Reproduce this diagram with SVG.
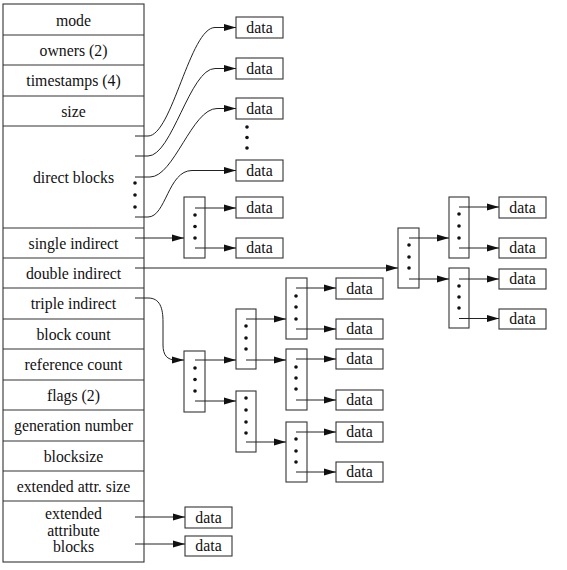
<svg xmlns="http://www.w3.org/2000/svg" width="567" height="570" viewBox="0 0 567 570">
<defs>
<marker id="ah" markerUnits="userSpaceOnUse" markerWidth="13" markerHeight="8" refX="12" refY="4" orient="auto">
<path d="M0,0.5 L12,4 L0,7.5 z" fill="#111"/>
</marker>
</defs>
<style>
text{font-family:"Liberation Serif","Times New Roman",serif;font-size:15.8px;fill:#111;text-anchor:middle}
.box{fill:#fff;stroke:#333;stroke-width:1.1}
.row{stroke:#333;stroke-width:1.1}
.ln{fill:none;stroke:#222;stroke-width:1}
.ar{fill:none;stroke:#222;stroke-width:1;marker-end:url(#ah)}
.dot{fill:#111}
</style>
<rect width="567" height="570" fill="#fff"/>

<g id="inode">
<rect class="box" x="3" y="4" width="141" height="558"/>
<path class="row" d="M3,35H144M3,65H144M3,96H144M3,126H144M3,228H144M3,258H144M3,288H144M3,319H144M3,349H144M3,380H144M3,410H144M3,441H144M3,471H144M3,501H144"/>
<text x="73.5" y="25.5">mode</text>
<text x="73.5" y="55.5">owners (2)</text>
<text x="73.5" y="86">timestamps (4)</text>
<text x="73.5" y="116.5">size</text>
<text x="73.5" y="183">direct blocks</text>
<text x="73.5" y="248.5">single indirect</text>
<text x="73.5" y="278.5">double indirect</text>
<text x="73.5" y="309">triple indirect</text>
<text x="73.5" y="339.5">block count</text>
<text x="73.5" y="370">reference count</text>
<text x="73.5" y="400.5">flags (2)</text>
<text x="73.5" y="431">generation number</text>
<text x="73.5" y="461.5">blocksize</text>
<text x="73.5" y="491.5">extended attr. size</text>
<text x="73.5" y="519">extended</text>
<text x="73.5" y="536">attribute</text>
<text x="73.5" y="552">blocks</text>
<circle class="dot" cx="135" cy="183" r="1.8"/>
<circle class="dot" cx="135" cy="195" r="1.8"/>
<circle class="dot" cx="135" cy="207" r="1.8"/>
</g>

<g id="direct-data">
<g id="d1"><rect class="box" x="236" y="17" width="47" height="21"/><text x="259.5" y="32.5">data</text></g>
<g id="d2"><rect class="box" x="236" y="58" width="47" height="21"/><text x="259.5" y="73.5">data</text></g>
<g id="d3"><rect class="box" x="236" y="98" width="47" height="21"/><text x="259.5" y="113.5">data</text></g>
<circle class="dot" cx="247" cy="127" r="1.8"/>
<circle class="dot" cx="247" cy="137.5" r="1.8"/>
<circle class="dot" cx="247" cy="148" r="1.8"/>
<g id="d4"><rect class="box" x="236" y="160" width="47" height="21"/><text x="259.5" y="175.5">data</text></g>
</g>

<g id="single-indirect">
<g id="s1"><rect class="box" x="184" y="197" width="21" height="61"/>
<circle class="dot" cx="195" cy="215" r="1.8"/><circle class="dot" cx="195" cy="226.5" r="1.8"/><circle class="dot" cx="195" cy="238" r="1.8"/></g>
<g id="s1d1"><rect class="box" x="236" y="197" width="47" height="21"/><text x="259.5" y="212.5">data</text></g>
<g id="s1d2"><rect class="box" x="236" y="238" width="47" height="20"/><text x="259.5" y="253">data</text></g>
</g>

<g id="double-indirect">
<g id="D1"><rect class="box" x="398" y="228" width="21" height="60"/>
<circle class="dot" cx="409" cy="245" r="1.8"/><circle class="dot" cx="409" cy="257" r="1.8"/><circle class="dot" cx="409" cy="268" r="1.8"/></g>
<g id="D2a"><rect class="box" x="449" y="197" width="20" height="61"/>
<circle class="dot" cx="459" cy="214" r="1.8"/><circle class="dot" cx="459" cy="226" r="1.8"/><circle class="dot" cx="459" cy="238" r="1.8"/></g>
<g id="D2b"><rect class="box" x="449" y="268" width="20" height="60"/>
<circle class="dot" cx="459" cy="286" r="1.8"/><circle class="dot" cx="459" cy="297" r="1.8"/><circle class="dot" cx="459" cy="308" r="1.8"/></g>
<g id="Dd1"><rect class="box" x="499" y="197" width="47" height="21"/><text x="522.5" y="212.5">data</text></g>
<g id="Dd2"><rect class="box" x="499" y="238" width="47" height="20"/><text x="522.5" y="253">data</text></g>
<g id="Dd3"><rect class="box" x="499" y="269" width="47" height="20"/><text x="522.5" y="284">data</text></g>
<g id="Dd4"><rect class="box" x="499" y="309" width="47" height="20"/><text x="522.5" y="324">data</text></g>
</g>

<g id="triple-indirect">
<g id="T1"><rect class="box" x="184" y="351" width="21" height="61"/>
<circle class="dot" cx="195" cy="368" r="1.8"/><circle class="dot" cx="195" cy="379.5" r="1.8"/><circle class="dot" cx="195" cy="391" r="1.8"/></g>
<g id="T2a"><rect class="box" x="236" y="309" width="20" height="60"/>
<circle class="dot" cx="246" cy="326" r="1.8"/><circle class="dot" cx="246" cy="338" r="1.8"/><circle class="dot" cx="246" cy="349" r="1.8"/></g>
<g id="T2b"><rect class="box" x="236" y="391" width="20" height="61"/>
<circle class="dot" cx="246" cy="398" r="1.8"/><circle class="dot" cx="246" cy="410" r="1.8"/><circle class="dot" cx="246" cy="422" r="1.8"/><circle class="dot" cx="246" cy="433" r="1.8"/></g>
<g id="T3a"><rect class="box" x="286" y="278" width="21" height="61"/>
<circle class="dot" cx="296" cy="296" r="1.8"/><circle class="dot" cx="296" cy="307" r="1.8"/><circle class="dot" cx="296" cy="319" r="1.8"/></g>
<g id="T3b"><rect class="box" x="286" y="349" width="21" height="61"/>
<circle class="dot" cx="296" cy="367" r="1.8"/><circle class="dot" cx="296" cy="378" r="1.8"/><circle class="dot" cx="296" cy="389" r="1.8"/></g>
<g id="T3c"><rect class="box" x="286" y="422" width="21" height="60"/>
<circle class="dot" cx="296" cy="439" r="1.8"/><circle class="dot" cx="296" cy="451" r="1.8"/><circle class="dot" cx="296" cy="462" r="1.8"/></g>
<g id="Td1"><rect class="box" x="336" y="278" width="47" height="21"/><text x="359.5" y="293.5">data</text></g>
<g id="Td2"><rect class="box" x="336" y="319" width="47" height="20"/><text x="359.5" y="334">data</text></g>
<g id="Td3"><rect class="box" x="336" y="349" width="47" height="20"/><text x="359.5" y="364">data</text></g>
<g id="Td4"><rect class="box" x="336" y="390" width="47" height="20"/><text x="359.5" y="405">data</text></g>
<g id="Td5"><rect class="box" x="336" y="422" width="47" height="20"/><text x="359.5" y="437">data</text></g>
<g id="Td6"><rect class="box" x="336" y="462" width="47" height="20"/><text x="359.5" y="477">data</text></g>
</g>

<g id="ext-data">
<g id="e1"><rect class="box" x="185" y="507" width="47" height="21"/><text x="208.5" y="522.5">data</text></g>
<g id="e2"><rect class="box" x="185" y="536" width="47" height="20"/><text x="208.5" y="551">data</text></g>
</g>

<g id="connectors">
<path class="ar" d="M135,136 L148,136 C172,136 190,27.5 215,27.5 L236,27.5"/>
<path class="ar" d="M135,156 L148,156 C172,156 190,68.5 215,68.5 L236,68.5"/>
<path class="ar" d="M135,177 L150,177 C174,177 192,108.5 217,108.5 L236,108.5"/>
<path class="ar" d="M135,217 L148,217 C166,217 168,170.5 192,170.5 L236,170.5"/>
<path class="ar" d="M135,238 L184,238"/>
<path class="ar" d="M195,208 L236,208"/>
<path class="ar" d="M195,248 L236,248"/>
<path class="ar" d="M135,268 L398,268"/>
<path class="ar" d="M409,238 L449,238"/>
<path class="ar" d="M409,279 L449,279"/>
<path class="ar" d="M459,207 L499,207"/>
<path class="ar" d="M459,248 L499,248"/>
<path class="ar" d="M459,279 L499,279"/>
<path class="ar" d="M459,318.5 L499,318.5"/>
<path class="ar" d="M135,298 L148,298 C160,298 163,308 163,322 L163,345 C163,355 167,360 176,360 L184,360"/>
<path class="ar" d="M195,360 L236,360"/>
<path class="ar" d="M195,401 L236,401"/>
<path class="ar" d="M246,319 L286,319"/>
<path class="ar" d="M246,360 L286,360"/>
<path class="ar" d="M246,442 L286,442"/>
<path class="ar" d="M296,288 L336,288"/>
<path class="ar" d="M296,329 L336,329"/>
<path class="ar" d="M296,359 L336,359"/>
<path class="ar" d="M296,400 L336,400"/>
<path class="ar" d="M296,432 L336,432"/>
<path class="ar" d="M296,472 L336,472"/>
<path class="ar" d="M135,517 L185,517"/>
<path class="ar" d="M135,544 L185,544"/>
</g>
</svg>
